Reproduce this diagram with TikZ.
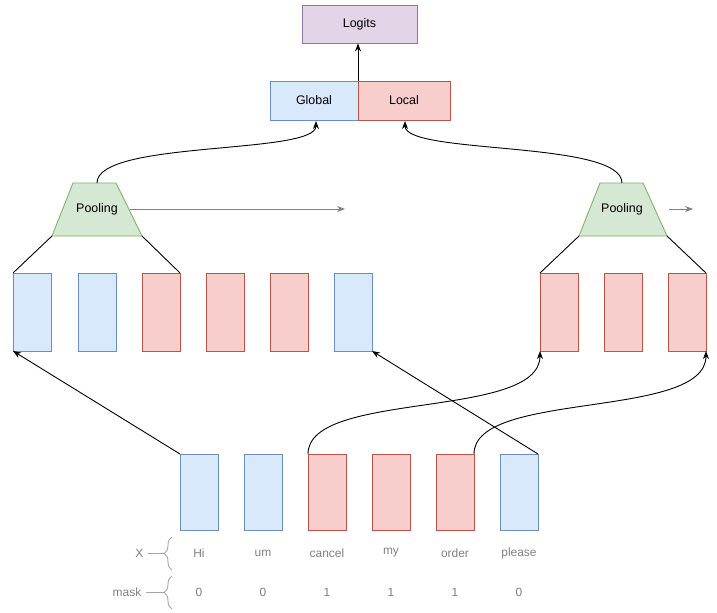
\documentclass[tikz,border=0pt]{standalone}
\usepackage{fontspec}
\setmainfont{Liberation Sans}
\usetikzlibrary{arrows.meta,decorations.pathreplacing}
\definecolor{bf}{HTML}{DAE8FC}\definecolor{bd}{HTML}{6C8EBF}
\definecolor{rf}{HTML}{F8CECC}\definecolor{rd}{HTML}{B85450}
\definecolor{gf}{HTML}{D5E8D4}\definecolor{gd}{HTML}{82B366}
\definecolor{pf}{HTML}{E1D5E7}\definecolor{pd}{HTML}{9673A6}
\begin{document}
\begin{tikzpicture}[x=1bp,y=-1bp,line width=0.9bp,
 bx/.style={draw=bd,fill=bf},rx/.style={draw=rd,fill=rf},
 arr/.style={-{Stealth[length=8bp,width=6bp]},black},
 garr/.style={-{Stealth[length=8bp,width=6bp]},gray},
 lab/.style={font=\fontsize{12}{14}\selectfont,text=gray},
 tx/.style={font=\fontsize{12.5}{15}\selectfont},
 pool/.style={draw=gd,fill=gf}]
\useasboundingbox (0,0) rectangle (717,613);
\foreach \n/\x/\s in {a1/13/bx,a2/78/bx,a3/142/rx,a4/206/rx,a5/270/rx,a6/334/bx,b1/540/rx,b2/604/rx,b3/668/rx}
  \path[\s] (\x,273) rectangle ++(38,78) coordinate (\n);
\foreach \n/\x/\s in {c1/180/bx,c2/244/bx,c3/308/rx,c4/372/rx,c5/436/rx,c6/500/bx}
  \path[\s] (\x,454) rectangle ++(38,76) coordinate (\n);
\path[pool] (52,236) -- (73,183) -- (116,183) -- (142,236) -- cycle;
\node[tx] (p1) at (97,209) {Pooling};
\path[pool] (579,236) -- (600,183) -- (643,183) -- (667,236) -- cycle;
\node[tx] (p2) at (622,209) {Pooling};
\coordinate (e1) at (345,209); \coordinate (e2) at (693,209);
\draw[garr] (130,209) -- (e1);
\draw[garr] (669,209) -- (e2);
\draw (52,236) -- (13,273); \draw (142,236) -- (180,273);
\draw (579,236) -- (540,273); \draw (667,236) -- (706,273);
\node[bx,minimum width=88bp,minimum height=39bp,inner sep=0,tx] (g) at (314,100.5) {Global};
\node[rx,minimum width=92bp,minimum height=39bp,inner sep=0,tx] (l) at (404,100.5) {Local};
\node[draw=pd,fill=pf,minimum width=115bp,minimum height=38bp,inner sep=0,tx] (lg) at (359.5,24) {Logits};
\draw[arr] (358,81) -- (lg.south -| 358,0);
\draw[arr] (97,183) .. controls (97,140) and (316,155) .. (316,121);
\draw[arr] (622,183) .. controls (622,140) and (405,155) .. (405,121);
\draw[arr] (180,454) -- (13,351);
\draw[arr] (538,454) -- (372,351);
\draw[arr] (308,454) .. controls (308,390) and (540,420) .. (540,351);
\draw[arr] (474,454) .. controls (474,390) and (706,420) .. (706,351);
\node[lab,anchor=east] (xl) at (147,553) {X};
\node[lab,anchor=east] (ml) at (145,592) {mask};
\draw[gray!70,decorate,decoration={brace,amplitude=8bp}] (172,570) -- (172,537);
\draw[gray!70,decorate,decoration={brace,amplitude=8bp}] (172,609) -- (172,576);
\draw[gray!70] (148,553.5) -- (164,553.5);
\draw[gray!70] (146,592.5) -- (164,592.5);
\foreach \w/\x in {Hi/199,um/263,cancel/327,my/391,order/455,please/519}
  \node[lab] at (\x,553) {\w};
\foreach \w/\x in {0/199,0/263,1/327,1/391,1/455,0/519}
  \node[lab] at (\x,592) {\w};
\end{tikzpicture}
\end{document}
